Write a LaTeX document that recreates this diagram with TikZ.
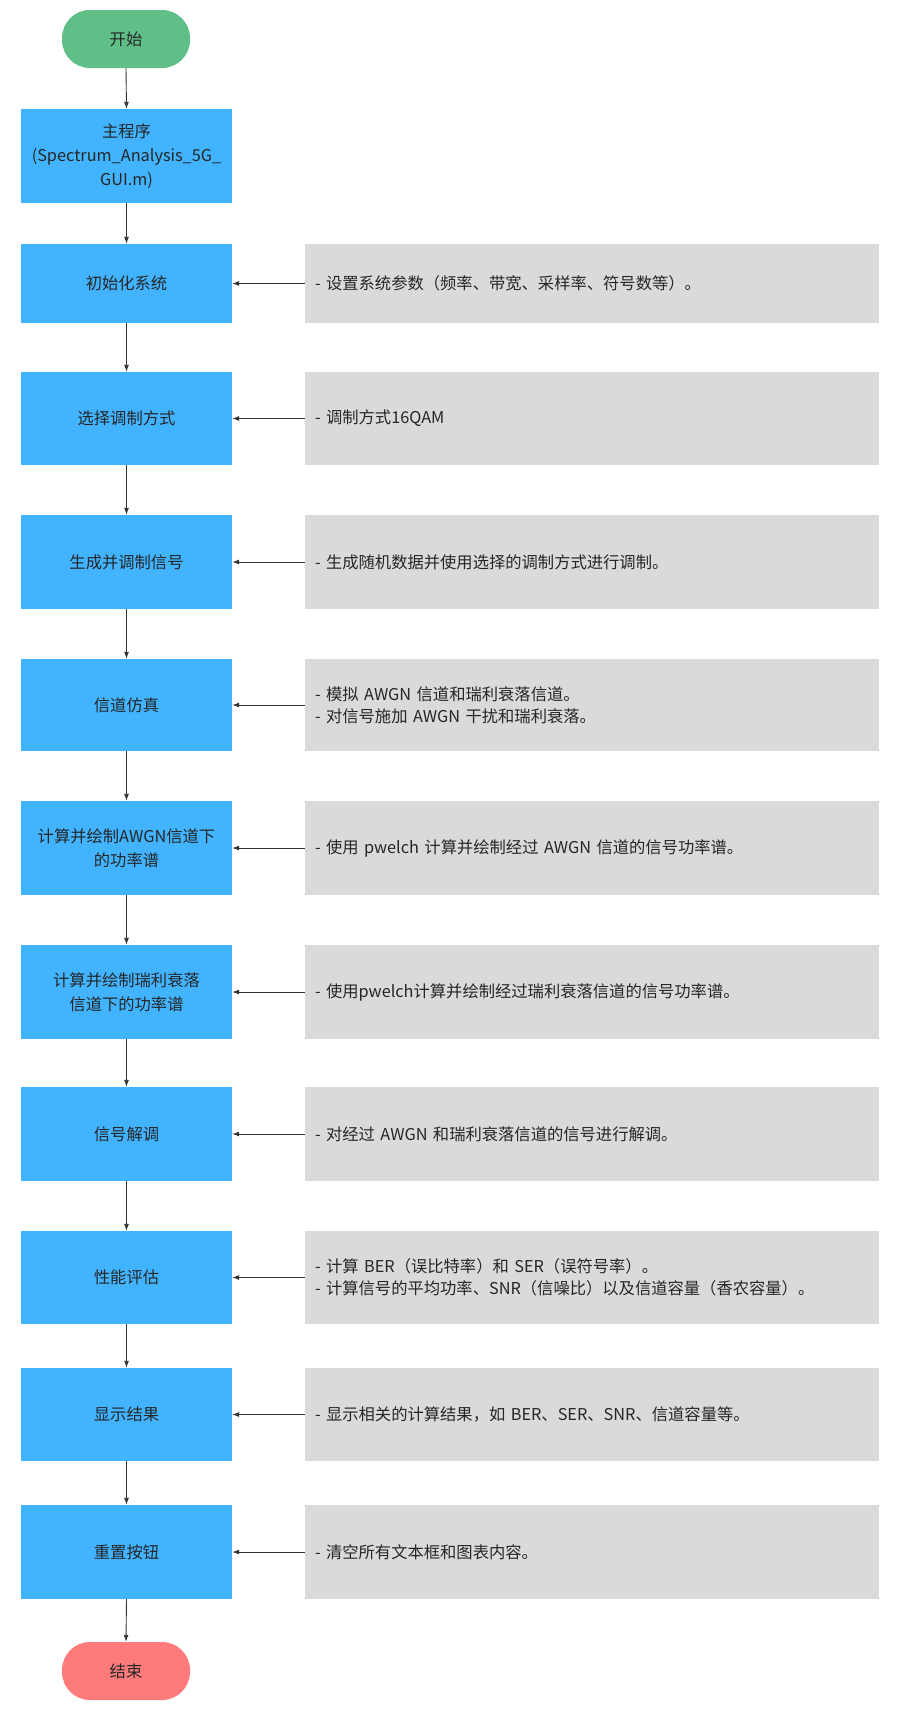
\documentclass[tikz,border=0pt]{standalone}
\usepackage{fontspec}
\setmainfont{Noto Sans CJK SC}
\usetikzlibrary{arrows.meta}
\definecolor{bl}{HTML}{42B4FF}
\definecolor{gr}{HTML}{5FBF87}
\definecolor{rd}{HTML}{FF7B7B}
\definecolor{gy}{HTML}{DADADA}
\definecolor{ln}{HTML}{333333}
\tikzset{
  proc/.style={fill=bl,draw=none,minimum width=211pt,inner sep=0pt,align=center,font=\fontsize{16.3}{24}\selectfont,text=black!85},
  note/.style={fill=gy,draw=none,minimum width=574pt,inner sep=0pt,text width=554pt,align=left,font=\fontsize{16.3}{22}\selectfont,text=black!85},
  term/.style={rounded corners=28pt,minimum width=128pt,minimum height=58pt,inner sep=0pt,font=\fontsize{16.3}{20}\selectfont,text=black!85},
  arr/.style={draw=ln,line width=0.9pt,-{Latex[length=7pt,width=5pt]}}
}
\begin{document}
\begin{tikzpicture}[x=1pt,y=-1pt]
\useasboundingbox[fill=white] (0,0) rectangle (900,1732);
\node[term,fill=gr] (s) at (126,39) {开始};
\node[proc,minimum height=94pt] (m) at (126.5,156) {主程序\\(Spectrum\_Analysis\_5G\_\\GUI.m)};
\newcommand\row[5]{%
  \node[proc,minimum height=#3pt] (#1) at (126.5,#2) {#4};
  \node[note,minimum height=#3pt] (#1n) at (592,#2) {#5};
  \draw[arr] (#1n.west) -- (#1.east);}
\row{a}{283.5}{79}{初始化系统}{- 设置系统参数（频率、带宽、采样率、符号数等）。}
\row{b}{418.5}{93}{选择调制方式}{- 调制方式16QAM}
\row{c}{562}{94}{生成并调制信号}{- 生成随机数据并使用选择的调制方式进行调制。}
\row{d}{705}{92}{信道仿真}{- 模拟 AWGN 信道和瑞利衰落信道。\\- 对信号施加 AWGN 干扰和瑞利衰落。}
\row{e}{848}{94}{计算并绘制AWGN信道下\\的功率谱}{- 使用 pwelch 计算并绘制经过 AWGN 信道的信号功率谱。}
\row{f}{992}{94}{计算并绘制瑞利衰落\\信道下的功率谱}{- 使用pwelch计算并绘制经过瑞利衰落信道的信号功率谱。}
\row{g}{1134}{94}{信号解调}{- 对经过 AWGN 和瑞利衰落信道的信号进行解调。}
\row{h}{1277.5}{93}{性能评估}{- 计算 BER（误比特率）和 SER（误符号率）。\\- 计算信号的平均功率、SNR（信噪比）以及信道容量（香农容量）。}
\row{i}{1414.5}{93}{显示结果}{- 显示相关的计算结果，如 BER、SER、SNR、信道容量等。}
\row{j}{1552}{94}{重置按钮}{- 清空所有文本框和图表内容。}
\node[term,fill=rd] (t) at (126,1671) {结束};
\foreach \p/\q in {s/m,m/a,a/b,b/c,c/d,d/e,e/f,f/g,g/h,h/i,i/j,j/t}
  \draw[arr] (\p.south) -- (\q.north);
\end{tikzpicture}
\end{document}
